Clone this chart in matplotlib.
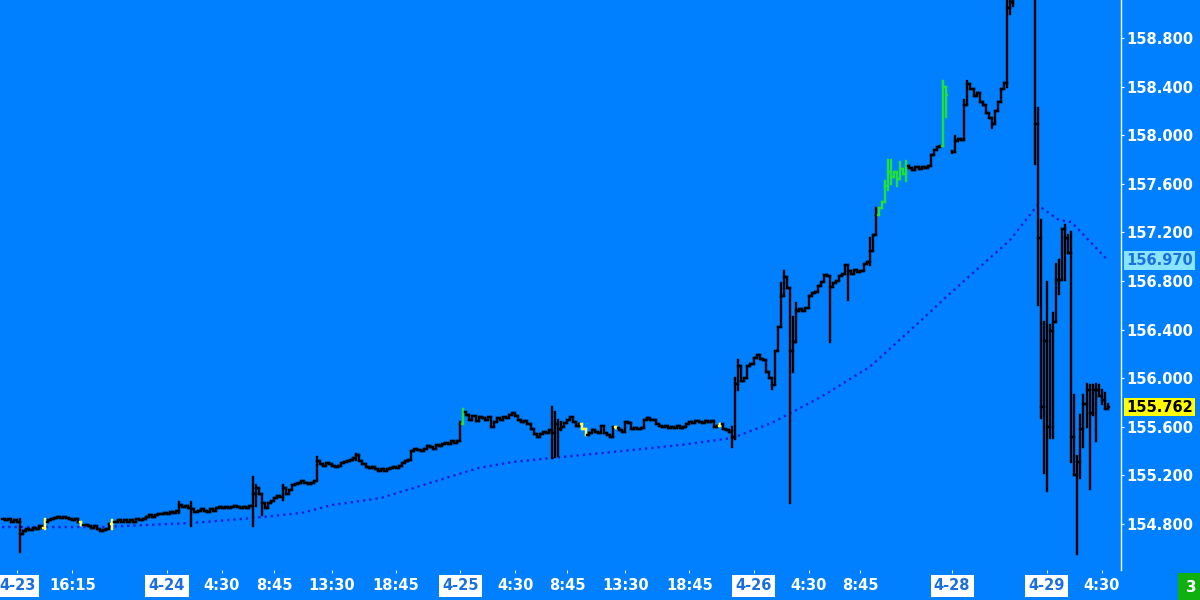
import numpy as np
import matplotlib
matplotlib.use("Agg")
import matplotlib.pyplot as plt
from matplotlib.collections import LineCollection

# 15-minute bars, one list of closes per session, bar index is global
day_start = [0, 54, 150, 246, 311, 342]

close_0423 = [
    154.84, 154.83, 154.84, 154.82, 154.83, 154.82, 154.72, 154.74, 154.76, 154.75,
    154.77, 154.76, 154.78, 154.77, 154.82, 154.83, 154.84, 154.85, 154.86, 154.85,
    154.86, 154.85, 154.84, 154.83, 154.84, 154.82, 154.79, 154.79, 154.78, 154.77,
    154.78, 154.76, 154.74, 154.75, 154.76, 154.80, 154.82, 154.82, 154.83, 154.82,
    154.83, 154.82, 154.83, 154.82, 154.84, 154.83, 154.84, 154.86, 154.87, 154.86,
    154.87, 154.88, 154.88, 154.89,
]
close_0424 = [
    154.88, 154.90, 154.89, 154.91, 154.96, 154.94, 154.95, 154.93, 154.92, 154.90,
    154.91, 154.92, 154.91, 154.90, 154.92, 154.91, 154.93, 154.94, 154.93, 154.94,
    154.93, 154.94, 154.95, 154.94, 154.93, 154.94, 154.93, 154.95, 155.05, 155.10,
    155.05, 154.97, 154.93, 154.97, 154.99, 155.01, 155.03, 155.02, 155.10, 155.05,
    155.08, 155.12, 155.13, 155.14, 155.15, 155.14, 155.13, 155.14, 155.15, 155.32,
    155.29, 155.28, 155.30, 155.29, 155.28, 155.27, 155.28, 155.30, 155.31, 155.32,
    155.33, 155.34, 155.37, 155.32, 155.29, 155.27, 155.26, 155.27, 155.25, 155.24,
    155.25, 155.24, 155.25, 155.26, 155.27, 155.26, 155.28, 155.30, 155.32, 155.33,
    155.40, 155.42, 155.41, 155.40, 155.42, 155.44, 155.43, 155.42, 155.45, 155.44,
    155.46, 155.47, 155.46, 155.48, 155.47, 155.48,
]
close_0425 = [
    155.62, 155.72, 155.70, 155.66, 155.69, 155.65, 155.68, 155.67, 155.66, 155.68,
    155.60, 155.64, 155.67, 155.66, 155.68, 155.67, 155.70, 155.71, 155.69, 155.66,
    155.64, 155.65, 155.62, 155.58, 155.54, 155.52, 155.54, 155.56, 155.55, 155.57,
    155.55, 155.62, 155.58, 155.60, 155.63, 155.66, 155.68, 155.64, 155.61, 155.62,
    155.58, 155.53, 155.55, 155.57, 155.56, 155.55, 155.61, 155.55, 155.53, 155.52,
    155.60, 155.59, 155.57, 155.56, 155.64, 155.63, 155.58, 155.59, 155.58, 155.59,
    155.66, 155.67, 155.66, 155.66, 155.62, 155.61, 155.60, 155.61, 155.59, 155.60,
    155.59, 155.61, 155.59, 155.60, 155.62, 155.64, 155.63, 155.65, 155.64, 155.63,
    155.65, 155.64, 155.65, 155.60, 155.61, 155.62, 155.58, 155.57, 155.56, 155.52,
    155.95, 156.10, 155.98, 156.00, 156.10, 156.12,
]
close_0426 = [
    156.17, 156.19, 156.16, 156.15, 156.05, 156.00, 155.94, 156.22, 156.42, 156.68,
    156.83, 156.74, 156.22, 156.30, 156.55, 156.57, 156.55, 156.58, 156.68, 156.70,
    156.71, 156.76, 156.79, 156.85, 156.84, 156.75, 156.78, 156.80, 156.84, 156.86,
    156.93, 156.88, 156.86, 156.89, 156.87, 156.88, 156.94, 156.96, 157.05, 157.18,
    157.34, 157.40, 157.45, 157.58, 157.70, 157.66, 157.70, 157.64, 157.72, 157.68,
    157.75, 157.73, 157.71, 157.74, 157.72, 157.74, 157.73, 157.75, 157.84, 157.88,
    157.90, 157.91, 158.40, 158.33,
]
nan = float("nan")
close_0428 = [
    157.86, 157.95, 157.97, 157.96, 158.25, 158.42, 158.38, 158.32, 158.35, 158.27,
    158.25, 158.18, 158.14, 158.09, 158.20, 158.27, 158.38, 158.43, 159.05, 159.10,
    159.25, nan, nan, nan, nan, nan, nan, 158.09, 157.15, 155.76,
    156.31,
]
close_0429 = [
    155.60, 156.39, 156.46, 156.81, 156.81, 157.23, 157.15, 157.03, 155.52, 155.20,
    155.31, 155.58, 155.79, 155.90, 155.71, 155.90, 155.90, 155.85, 155.82, 155.75,
    155.762,
]
high_0429 = [
    156.79, 156.44, 156.54, 156.94, 156.97, 157.23, 157.26, 157.18, 157.20, 155.86,
    155.36, 155.70, 155.86, 155.95, 155.94, 155.94, 155.95, 155.94, 155.90, 155.88,
    155.79,
]
low_0429 = [
    155.07, 155.51, 155.51, 156.46, 156.69, 156.81, 156.81, 157.03, 155.31, 155.20,
    154.55, 155.18, 155.43, 155.60, 155.09, 155.70, 155.48, 155.85, 155.79, 155.75,
    155.75,
]

# bars whose range goes beyond open/close
wick_bar = [6, 14, 36, 58, 62, 82, 83, 85, 92, 103, 116, 150, 151, 180, 181, 182, 183,
            239, 240, 241, 252, 255, 256, 258, 259, 260, 271, 277, 284, 286, 289, 290,
            291, 293, 294, 296, 308, 309, 311, 312, 315, 316, 324, 329, 330, 331,
            338, 339, 340, 341]
wick_high = [154.84, 154.84, 154.83, 154.98, 154.98, 155.19, 155.12, 155.05, 155.12, 155.35,
             155.38, 155.64, 155.75, 155.76, 155.72, 155.66, 155.64,
             155.60, 156.00, 156.15, 156.00, 156.78, 156.88, 156.70, 156.50, 156.62,
             156.82, 156.93, 157.15, 157.40, 157.62, 157.80,
             157.80, 157.70, 157.78, 157.79, 158.45, 158.39, 157.87, 157.99, 158.29,
             158.45, 158.14, 159.50, 159.40, 159.40,
             159.50, 158.22, 157.30, 156.46]
wick_low = [154.57, 154.76, 154.76, 154.89, 154.78, 154.78, 154.95, 154.87, 155.00, 155.15,
            155.33, 155.48, 155.64, 155.34, 155.35, 155.36, 155.57,
            155.43, 155.50, 155.90, 155.91, 156.42, 156.68, 154.97, 156.05, 156.30,
            156.30, 156.64, 156.93, 157.18, 157.45, 157.55,
            157.60, 157.58, 157.64, 157.62, 157.91, 158.15, 157.85, 157.90, 157.96,
            158.25, 158.06, 158.40, 159.00, 159.06,
            157.76, 156.60, 155.67, 155.22]

green_bars = [151, 287, 288, 289, 290, 291, 292, 293, 294, 295, 296, 308, 309]
yellow_bars = [14, 26, 36, 190, 191, 201, 235]

# moving average (dotted), read at a few bars
ma_bar = [0, 32, 62, 82, 98, 108, 124, 156, 167, 180, 200, 222, 239, 252, 268, 284,
          301, 309, 320, 330, 339, 346, 350, 362]
ma_value = [154.775, 154.775, 154.808, 154.849, 154.891, 154.956, 155.014, 155.261,
            155.310, 155.343, 155.393, 155.450, 155.508, 155.632, 155.845, 156.092,
            156.479, 156.668, 156.915, 157.137, 157.426, 157.302, 157.286, 156.970]

y_ticks = [154.8, 155.2, 155.6, 156.0, 156.4, 156.8, 157.2, 157.6, 158.0, 158.4, 158.8]
x_tick_bar = [5, 23, 54, 72, 89, 108, 129, 150, 168, 185, 204, 225, 246, 264, 281, 311, 342, 360]
x_tick_text = ["4-23", "16:15", "4-24", "4:30", "8:45", "13:30", "18:45", "4-25", "4:30",
               "8:45", "13:30", "18:45", "4-26", "4:30", "8:45", "4-28", "4-29", "4:30"]

last_price = 155.762
ma_last = 156.970

BG = "#0080FF"
GREEN = "#22E03A"
YELLOW = "#FFFF55"
MA_COLOR = "#2020DD"
DATE_BLUE = "#1A6FE0"

plt.rcParams["font.family"] = "DejaVu Sans"
plt.rcParams["font.weight"] = "bold"

# build the OHLC arrays
n = day_start[-1] + len(close_0429)
close = np.full(n, np.nan)
for start, vals in zip(day_start, [close_0423, close_0424, close_0425,
                                   close_0426, close_0428, close_0429]):
    close[start:start + len(vals)] = vals
opn = np.r_[np.nan, close[:-1]]
high = np.fmax(opn, close)
low = np.fmin(opn, close)
for b, h, l in zip(wick_bar, wick_high, wick_low):
    high[b] = max(high[b], h)
    low[b] = min(low[b], l)
s = day_start[-1]
for k, (h, l) in enumerate(zip(high_0429, low_0429)):
    high[s + k] = max(high[s + k], h)
    low[s + k] = min(low[s + k], l)

bar_color = ["#000000"] * n
for i in green_bars:
    bar_color[i] = GREEN
for i in yellow_bars:
    bar_color[i] = YELLOW

segs, cols = [], []
for i in range(n):
    if np.isnan(close[i]):
        continue
    segs.append([(i, low[i]), (i, high[i])])
    cols.append(bar_color[i])
    if not np.isnan(opn[i]):
        segs.append([(i - 0.42, opn[i]), (i, opn[i])])
        cols.append(bar_color[i])
    segs.append([(i, close[i]), (i + 0.42, close[i])])
    cols.append(bar_color[i])

fig = plt.figure(figsize=(12, 6), dpi=100, facecolor=BG)
ax = fig.add_axes([0, 30 / 600, 1121 / 1200, 570 / 600], facecolor=BG)

ax.plot(ma_bar, ma_value, linestyle=":", color=MA_COLOR, linewidth=1.7, zorder=2)
ax.add_collection(LineCollection(segs, colors=cols, linewidths=1.7,
                                 capstyle="projecting", zorder=3))

ax.set_xlim(-0.655, 366.28)
ax.set_ylim(154.4214, 159.1128)

for side in ["left", "top", "bottom"]:
    ax.spines[side].set_visible(False)
ax.spines["right"].set_color("white")
ax.spines["right"].set_linewidth(1.0)

ax.yaxis.tick_right()
ax.set_yticks(y_ticks)
ax.set_yticklabels([f"{v:.3f}" for v in y_ticks])
ax.tick_params(axis="y", colors="white", length=2, width=0.8, pad=1.5,
               labelsize=10.5, labelcolor="white")

ax.set_xticks(x_tick_bar)
ax.set_xticklabels(x_tick_text)
ax.tick_params(axis="x", colors="white", length=2.5, width=0.7, pad=3.5,
               labelsize=10.5, labelcolor="white")
for lab in ax.get_xticklabels():
    if "-" in lab.get_text():
        lab.set_color(DATE_BLUE)
        lab.set_bbox(dict(facecolor="white", edgecolor="none", pad=2.4))

ytr = ax.get_yaxis_transform()
ax.text(1.0045, ma_last, f"{ma_last:.3f}", transform=ytr, ha="left", va="center",
        fontsize=10.5, color="#1870E0", clip_on=False,
        bbox=dict(boxstyle="square,pad=0.12", facecolor="#88E4FF", edgecolor="none"))
ax.text(1.0045, last_price, f"{last_price:.3f}", transform=ytr, ha="left", va="center",
        fontsize=10.5, color="black", clip_on=False,
        bbox=dict(boxstyle="square,pad=0.12", facecolor="#FFFF00", edgecolor="none"))

fig.text(1191 / 1200, 12 / 600, "3", ha="center", va="center", fontsize=11,
         color="white", bbox=dict(boxstyle="square,pad=0.5", facecolor="#10B010",
                                  edgecolor="none"))

fig.savefig("out.png", dpi=100, facecolor=BG)
